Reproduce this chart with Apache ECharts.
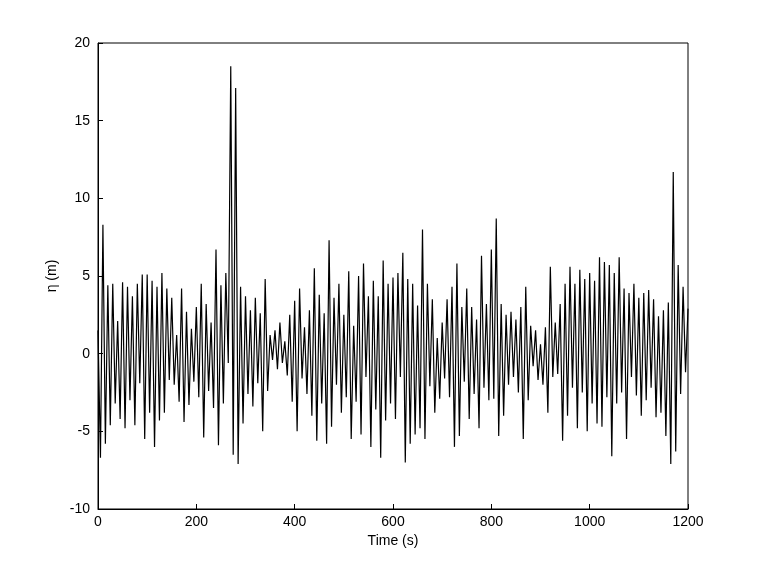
<!DOCTYPE html>
<html>
<head>
<meta charset="utf-8">
<script src="https://cdn.jsdelivr.net/npm/echarts@6/dist/echarts.min.js"></script>
<style>html,body{margin:0;padding:0;background:#fff}</style>
</head>
<body>
<div id="container" style="width:760px;height:569px"></div>
<script type="text/javascript">
// sample step (s) between wave extrema
var step = 5;
// wave elevation eta (m), one value every 5 s from t = 0
var eta0 = [1.5,-6.7,8.3,-5.8,4.4,-4.6,4.5,-3.2,2.1,-4.2,4.6,-4.8,4.3,-3.0,3.7,-4.6,4.5,-1.9,5.1,-5.5,
            5.1,-3.8,4.7,-6.0,4.3,-4.3,5.2,-3.8,4.2,-1.7,3.6,-2.0,1.2,-3.1,4.2,-4.4,2.7,-3.3,1.6,-1.8,
            3.0,-2.8,4.5,-5.4,3.2,-2.4,2.0,-3.5,6.7,-5.9,4.4,-3.2,5.2,-0.6,18.5,-6.5,17.1,-7.1,4.3,-4.5];
var eta1 = [3.7,-2.6,2.8,-3.4,3.6,-1.9,2.6,-5.0,4.8,-2.4,1.2,-0.4,1.5,-1.0,2.0,-0.6,0.8,-1.4,2.5,-3.1,
            3.4,-5.0,4.2,-1.6,1.7,-2.6,2.8,-4.0,5.5,-5.6,3.8,-3.2,2.6,-5.8,7.3,-4.7,3.6,-2.0,4.5,-3.8,
            2.5,-2.8,5.3,-5.5,1.8,-3.1,5.0,-5.2,5.8,-1.5,3.7,-6.0,4.7,-3.6,3.7,-6.7,6.0,-4.3,4.5,-3.2];
var eta2 = [4.9,-4.2,5.2,-1.5,6.5,-7.0,4.8,-5.8,4.5,-5.2,3.1,-4.8,8.0,-5.5,4.5,-2.1,3.5,-3.8,1.0,-2.9,
            2.0,-1.6,3.5,-2.8,4.3,-6.0,5.8,-5.3,3.0,-1.8,4.2,-4.2,3.0,-2.6,2.2,-4.8,6.3,-2.2,3.2,-3.0,
            6.7,-2.9,8.7,-5.3,3.2,-4.0,2.5,-2.0,2.7,-1.5];
var eta3 = [2.2,-2.5,3.0,-5.5,4.3,-3.0,1.8,-0.8,1.5,-1.7,0.6,-2.0,1.7,-3.8,5.6,-1.5,2.0,-1.3,3.2,-5.6,
            4.5,-4.0,5.6,-2.2,4.5,-4.8,5.4,-2.5,4.8,-5.0,5.2,-3.2,4.7,-4.5,6.2,-4.7,5.9,-2.8,5.7,-6.6,
            5.2,-3.2,6.2,-2.5,4.2,-5.5,3.9,-1.5,4.5,-2.7,3.6,-4.0,3.9,-3.0,4.1,-2.2,3.5,-4.1,2.4,-3.8,
            2.8,-5.3,3.3,-7.1,11.7,-6.3,5.7,-2.6,4.3,-1.2,2.9];
var eta = eta0.concat(eta1, eta2, eta3);
var xTicks = [0, 200, 400, 600, 800, 1000, 1200];

var data = [];
for (var i = 0; i < eta.length; i++) {
    data.push([Math.min(i * step, 1200), eta[i]]);
}

var myChart = echarts.init(document.getElementById('container'));
var font = {color: '#000', fontSize: 14, fontFamily: 'Arial, Liberation Sans'};
var option = {
    animation: false,
    backgroundColor: '#fff',
    grid: {left: 98, right: 72, top: 43, bottom: 60, show: true, borderColor: '#000', borderWidth: 1},
    xAxis: {
        type: 'value', min: xTicks[0], max: xTicks[xTicks.length - 1], interval: 200,
        name: 'Time (s)', nameLocation: 'middle', nameGap: 22, nameTextStyle: font,
        axisLine: {onZero: false, lineStyle: {color: '#000'}},
        axisTick: {inside: true, length: 5, lineStyle: {color: '#000'}},
        axisLabel: Object.assign({formatter: function (v) { return String(v); }, margin: 6}, font),
        splitLine: {show: false}
    },
    yAxis: {
        type: 'value', min: -10, max: 20, interval: 5,
        name: 'η (m)', nameLocation: 'middle', nameGap: 34, nameTextStyle: font,
        axisLine: {onZero: false, lineStyle: {color: '#000'}},
        axisTick: {inside: true, length: 5, lineStyle: {color: '#000'}},
        axisLabel: Object.assign({margin: 8}, font),
        splitLine: {show: false}
    },
    series: [{
        type: 'line', data: data, symbol: 'none',
        lineStyle: {color: '#000', width: 1.2}
    }]
};
myChart.setOption(option);
</script>
</body>
</html>
